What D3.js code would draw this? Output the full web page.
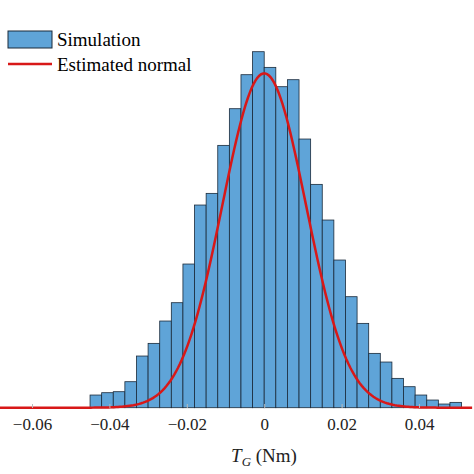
<!DOCTYPE html><html><head><meta charset="utf-8"><script src="https://cdn.jsdelivr.net/npm/d3@7"></script>
<style>body{margin:0;background:#fff}text{font-family:"Liberation Serif","Times New Roman",serif}</style></head><body>
<svg id="c" width="474" height="474"></svg>
<script>
const binStart=-0.045, binWidth=0.003;
const counts=[38,45,48,78,155,193,260,315,431,608,643,787,897,999,1068,1021,963,984,806,670,563,443,333,253,163,137,88,63,38,23,11,16];
const mu=0, sigma=0.0108, peak=1003;
const xTicks=[-0.06,-0.04,-0.02,0,0.02,0.04];
const svg=d3.select("#c");
const x=d3.scaleLinear().domain([-0.06,0.04]).range([32,419]);
const y=d3.scaleLinear().domain([0,1068]).range([407.7,51.7]);
svg.selectAll("rect.b").data(counts).enter().append("rect")
 .attr("x",(d,i)=>x(binStart+i*binWidth)).attr("width",x(binWidth)-x(0))
 .attr("y",d=>y(d)).attr("height",d=>y(0)-y(d))
 .attr("fill","#5fa4d8").attr("stroke","#1a2a3a").attr("stroke-width",0.8);
const xs=d3.range(x.invert(0),x.invert(474),0.0005);
svg.append("path").datum(xs).attr("fill","none").attr("stroke","#d81818").attr("stroke-width",2.5)
 .attr("d",d3.line().x(d=>x(d)).y(d=>y(peak*Math.exp(-0.5*((d-mu)/sigma)**2))));
const ax=svg.append("g").attr("transform","translate(0,408)").call(d3.axisBottom(x).tickValues(xTicks).tickSize(-4).tickPadding(10).tickFormat(d=>d===0?"0":d3.format(".2f")(d)));
ax.select(".domain").remove();
ax.selectAll(".tick line").attr("stroke","#bbb");
ax.selectAll("text").attr("font-size",17).attr("fill","#222").attr("font-family","Liberation Serif");
const t=svg.append("text").attr("x",264).attr("y",462).attr("text-anchor","middle").attr("font-size",19).attr("fill","#222");
t.append("tspan").attr("font-style","italic").text("T");
t.append("tspan").attr("font-style","italic").attr("font-size",13).attr("dy",4).text("G");
t.append("tspan").attr("dy",-4).text(" (Nm)");
svg.append("rect").attr("x",8).attr("y",31).attr("width",44).attr("height",17).attr("fill","#5fa4d8").attr("stroke","#1a2a3a");
svg.append("text").attr("x",57).attr("y",46).attr("font-size",19).text("Simulation");
svg.append("line").attr("x1",8).attr("x2",52).attr("y1",64).attr("y2",64).attr("stroke","#d81818").attr("stroke-width",2.5);
svg.append("text").attr("x",57).attr("y",71).attr("font-size",19).text("Estimated normal");
</script></body></html>
